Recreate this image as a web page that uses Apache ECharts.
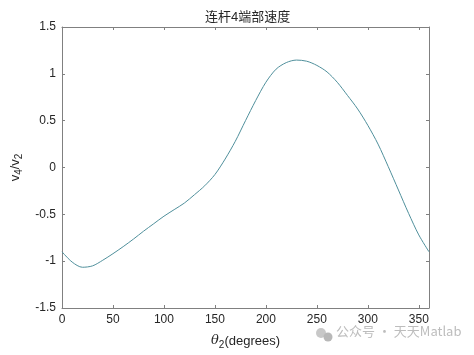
<!DOCTYPE html>
<html>
<head>
<meta charset="utf-8">
<script src="https://cdn.jsdelivr.net/npm/echarts@6/dist/echarts.min.js"></script>
<style>
  html, body { margin: 0; padding: 0; background: #fff; }
  #chart { width: 474px; height: 355px; }
</style>
</head>
<body>
<div id="chart"></div>
<script>
// 曲柄转角 (度) 与 连杆4端部速度比, 从图上读取, 每10度一个点
var theta = [0, 10, 20, 30, 40, 50, 60, 70, 80, 90, 100, 110, 120, 130, 140, 150, 160, 170, 180,
  190, 200, 210, 220, 230, 240, 250, 260, 270, 280, 290, 300, 310, 320, 330, 340, 350, 360]
var speed = [-0.90, -1.01, -1.065, -1.05, -0.99, -0.92, -0.845, -0.765, -0.68, -0.60, -0.52, -0.45, -0.38, -0.29, -0.195, -0.075, 0.09, 0.28, 0.50,
  0.715, 0.91, 1.05, 1.12, 1.147, 1.135, 1.09, 1.02, 0.91, 0.77, 0.625, 0.45, 0.25, 0.01, -0.24, -0.49, -0.72, -0.90]

var font = "'Liberation Sans', 'Noto Sans CJK SC', sans-serif"
var axisGray = '#808080'
var textDark = '#262626'

var chart = echarts.init(document.getElementById('chart'))

var points = theta.map(function(t, i) { return [t, speed[i]] })

var tickIn = { show: true, inside: true, length: 3, lineStyle: { color: axisGray } }
var boxLine = { show: true, onZero: false, lineStyle: { color: axisGray, width: 1 } }

chart.setOption({
  animation: false,
  title: {
    text: '连杆4端部速度',
    left: 200,
    top: 6,
    textStyle: { fontSize: 13, fontWeight: 'normal', color: textDark, fontFamily: font }
  },
  grid: { left: 62, right: 45, top: 27, bottom: 42 },
  xAxis: [
    {
      type: 'value',
      min: 0,
      max: 360,
      interval: 50,
      name: '{i|θ}{s|2}(degrees)',
      nameLocation: 'middle',
      nameGap: 24,
      nameTextStyle: {
        color: textDark, fontFamily: font, fontSize: 13,
        rich: {
          i: { fontStyle: 'italic', fontSize: 13, fontFamily: 'DejaVu Serif', color: textDark },
          s: { fontSize: 10, verticalAlign: 'bottom', padding: [8, 0, 0, 0], color: textDark, fontFamily: font }
        }
      },
      axisLine: boxLine,
      axisTick: tickIn,
      axisLabel: { color: textDark, fontSize: 12, fontFamily: font, margin: 6, showMaxLabel: false },
      splitLine: { show: false }
    },
    {
      type: 'value',
      position: 'top',
      min: 0,
      max: 360,
      interval: 50,
      axisLine: boxLine,
      axisTick: tickIn,
      axisLabel: { show: false },
      splitLine: { show: false }
    }
  ],
  yAxis: [
    {
      type: 'value',
      min: -1.5,
      max: 1.5,
      interval: 0.5,
      name: 'v{s|4}/v{s|2}',
      nameLocation: 'middle',
      nameGap: 33,
      nameRotate: 90,
      nameTextStyle: {
        color: textDark, fontFamily: font, fontSize: 13,
        rich: {
          s: { fontSize: 10, verticalAlign: 'bottom', padding: [8, 0, 0, 0], color: textDark, fontFamily: font }
        }
      },
      axisLine: boxLine,
      axisTick: tickIn,
      axisLabel: { color: textDark, fontSize: 12, fontFamily: font, margin: 6 },
      splitLine: { show: false }
    },
    {
      type: 'value',
      position: 'right',
      min: -1.5,
      max: 1.5,
      interval: 0.5,
      axisLine: boxLine,
      axisTick: tickIn,
      axisLabel: { show: false },
      splitLine: { show: false }
    }
  ],
  series: [
    {
      type: 'line',
      data: points,
      smooth: 0.3,
      showSymbol: false,
      lineStyle: { color: '#4f8f9b', width: 1 },
      z: 3
    }
  ],
  graphic: [
    { type: 'circle', shape: { cx: 321, cy: 333, r: 5 }, style: { fill: '#c8c8c8' } },
    { type: 'circle', shape: { cx: 328, cy: 337, r: 4.5 }, style: { fill: '#b8b8b8' } },
    {
      type: 'text',
      left: 336,
      top: 325,
      style: { text: '公众号 · 天天Matlab', fill: '#bdbdbd', fontSize: 13, fontFamily: "'Noto Sans CJK SC', sans-serif" }
    }
  ]
})
</script>
</body>
</html>
